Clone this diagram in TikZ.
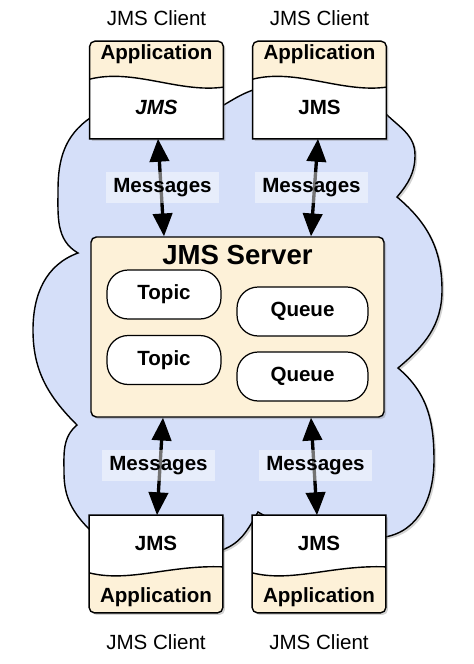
\documentclass[tikz,border=0pt]{standalone}
\usepackage{fontspec}
\setmainfont{Liberation Sans}
\usepackage{tikz}
\usetikzlibrary{positioning,calc,arrows.meta,shadows}

\definecolor{cloudblue}{RGB}{213,223,249}
\definecolor{appcream}{RGB}{253,241,216}

\begin{document}
\begin{tikzpicture}[x=0.02cm,y=0.02cm,>={Triangle[width=11pt,length=13pt]},
    every node/.style={font=\fontsize{11.7}{14}\selectfont\bfseries},
    frame/.style={minimum width=2.66cm, minimum height=1.94cm, inner sep=0pt},
    boxshadow/.style={drop shadow={shadow xshift=1.2pt,shadow yshift=-1.2pt,opacity=0.35}},
    pill/.style={draw, fill=white, line width=0.7pt, rounded corners=12pt, minimum height=0.98cm},
    msglabel/.style={fill=white, fill opacity=0.45, text opacity=1, minimum width=2.26cm, minimum height=0.62cm},
    msgarrow/.style={<->, line width=1.9pt},
    clientlabel/.style={font=\fontsize{11.7}{14}\selectfont}]
    \useasboundingbox (0,0) rectangle (474,-664);

    % the cloud (parts of it run behind the client boxes)
    \draw[fill=cloudblue, line width=0.8pt, boxshadow]
        (90,-118) to[out=215,in=90] (58,-190) to[out=-90,in=150] (78,-253)
        to[out=200,in=90] (33,-330) to[out=-90,in=135] (77,-425)
        to[out=220,in=90] (64,-473) to[out=-90,in=135] (90,-530)
        to[out=-45,in=180] (150,-560) to[out=0,in=200] (222,-550)
        to[out=20,in=240] (258,-512) to[out=-30,in=190] (385,-537)
        to[out=10,in=-90] (434,-460) to[out=90,in=-40] (398,-368)
        to[out=40,in=-90] (442,-290) to[out=90,in=-40] (397,-197)
        to[out=50,in=-90] (415,-155) to[out=90,in=-45] (385,-113)
        to[out=150,in=20] (253,-90) to[out=200,in=30] (222,-106)
        to[out=160,in=0] (156,-80) to[out=180,in=45] (90,-118) -- cycle;

    % client boxes
    \node[frame] (tl) at (156.5,-90) {};
    \node[frame] (tr) at (319.5,-90) {};
    \node[frame] (bl) at (156,-564) {};
    \node[frame] (br) at (319,-564) {};

    \foreach \c in {tl,tr} {
      \fill[white, boxshadow] (\c.south west) -- ([yshift=-3pt]\c.north west)
          arc[start angle=180,end angle=90,radius=3pt] -- ([xshift=-3pt]\c.north east)
          arc[start angle=90,end angle=0,radius=3pt] -- (\c.south east) -- cycle;
      \fill[appcream] ([yshift=-3pt]\c.north west)
          arc[start angle=180,end angle=90,radius=3pt] -- ([xshift=-3pt]\c.north east)
          arc[start angle=90,end angle=0,radius=3pt] -- ($(\c.north east)+(0,-46)$)
          .. controls ($(\c.north west)+(89,-52)$) and ($(\c.north west)+(44,-27)$) .. ($(\c.north west)+(0,-38)$) -- cycle;
      \draw[line width=0.8pt] ($(\c.north west)+(0,-38)$)
          .. controls ($(\c.north west)+(44,-27)$) and ($(\c.north west)+(89,-52)$) .. ($(\c.north east)+(0,-46)$);
      \draw[line width=0.8pt] (\c.south west) -- ([yshift=-3pt]\c.north west)
          arc[start angle=180,end angle=90,radius=3pt] -- ([xshift=-3pt]\c.north east)
          arc[start angle=90,end angle=0,radius=3pt] -- (\c.south east) -- cycle;
    }
    \foreach \c in {bl,br} {
      \fill[white, boxshadow] (\c.north west) -- ([yshift=3pt]\c.south west)
          arc[start angle=180,end angle=270,radius=3pt] -- ([xshift=-3pt]\c.south east)
          arc[start angle=270,end angle=360,radius=3pt] -- (\c.north east) -- cycle;
      \fill[appcream] ([yshift=3pt]\c.south west)
          arc[start angle=180,end angle=270,radius=3pt] -- ([xshift=-3pt]\c.south east)
          arc[start angle=270,end angle=360,radius=3pt] -- ($(\c.south east)+(0,46)$)
          .. controls ($(\c.south west)+(80,48)$) and ($(\c.south west)+(40,30)$) .. ($(\c.south west)+(0,40)$) -- cycle;
      \draw[line width=0.8pt] ($(\c.south west)+(0,40)$)
          .. controls ($(\c.south west)+(40,30)$) and ($(\c.south west)+(80,48)$) .. ($(\c.south east)+(0,46)$);
      \draw[line width=0.8pt] (\c.north west) -- ([yshift=3pt]\c.south west)
          arc[start angle=180,end angle=270,radius=3pt] -- ([xshift=-3pt]\c.south east)
          arc[start angle=270,end angle=360,radius=3pt] -- (\c.north east) -- cycle;
    }

    \node (tlapp) at ($(tl.north)+(0,-13)$) {Application};
    \node (tljms) at ($(tl.north)+(0,-66)$) {\itshape JMS};
    \node (trapp) at ($(tr.north)+(0,-13)$) {Application};
    \node (trjms) at ($(tr.north)+(0,-66)$) {JMS};
    \node (bljms) at ($(bl.north)+(0,-28)$) {JMS};
    \node (blapp) at ($(bl.south)+(0,16)$) {Application};
    \node (brjms) at ($(br.north)+(0,-28)$) {JMS};
    \node (brapp) at ($(br.south)+(0,16)$) {Application};

    \node[clientlabel] (tlname) at ($(tl.north)+(0,23)$) {JMS Client};
    \node[clientlabel] (trname) at ($(tr.north)+(0,23)$) {JMS Client};
    \node[clientlabel] (blname) at ($(bl.south)+(0,-29)$) {JMS Client};
    \node[clientlabel] (brname) at ($(br.south)+(0,-29)$) {JMS Client};

    % server
    \node[draw, fill=appcream, line width=0.8pt, rounded corners=3pt, boxshadow,
          minimum width=5.86cm, minimum height=3.6cm] (srv) at (237.5,-327) {};
    \node[font=\fontsize{15.7}{18}\selectfont\bfseries] (srvtitle) at ($(srv.north)+(0,-19)$) {JMS Server};
    \node[pill, minimum width=2.28cm] (topic1) at (164,-294.5) {Topic};
    \node[pill, minimum width=2.28cm] (topic2) at (164,-360) {Topic};
    \node[pill, minimum width=2.62cm] (queue1) at (302.5,-311.5) {Queue};
    \node[pill, minimum width=2.62cm] (queue2) at (302.5,-376.5) {Queue};

    % arrows, then the labels over them
    \draw[msgarrow] ($(tl.south)+(1.5,0)$) -- ($(srv.north)+(-73.5,0)$);
    \draw[msgarrow] ($(tr.south)+(-1.5,0)$) -- ($(srv.north)+(73.5,0)$);
    \draw[msgarrow] ($(srv.south)+(-74.5,0)$) -- ($(bl.north)+(1,0)$);
    \draw[msgarrow] ($(srv.south)+(73.5,0)$) -- ($(br.north)+(-2,0)$);

    \node[msglabel] (msgtl) at (162.5,-187.5) {Messages};
    \node[msglabel] (msgtr) at (311.5,-187.5) {Messages};
    \node[msglabel] (msgbl) at (158.5,-465.5) {Messages};
    \node[msglabel] (msgbr) at (315.5,-465.5) {Messages};
\end{tikzpicture}
\end{document}
